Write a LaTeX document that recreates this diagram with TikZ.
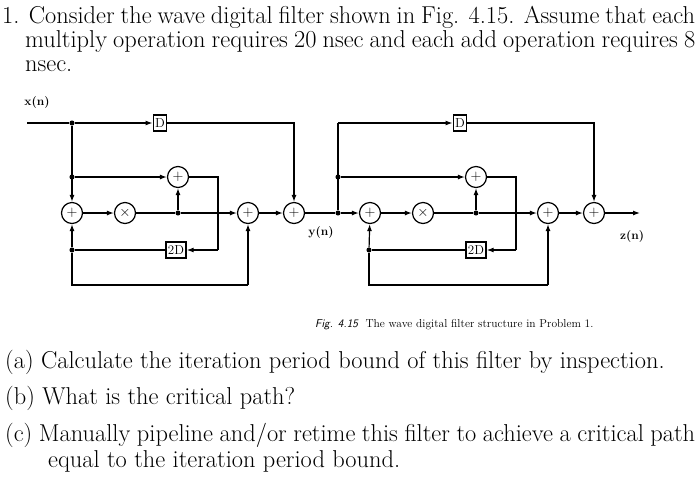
\documentclass[tikz,border=0pt]{standalone}
\usepackage{fontspec}
\usetikzlibrary{arrows.meta}
\begin{document}
\begin{tikzpicture}[x=1pt,y=-1pt,
 add/.style={circle,draw,line width=1.2pt,minimum size=21pt,inner sep=0pt,font=\fontsize{15}{15}\selectfont},
 dbox/.style={draw,line width=1.2pt,inner sep=2pt,minimum height=16pt,font=\fontsize{13}{13}\selectfont},
 ln/.style={line width=1.2pt},
 ar/.style={line width=1.2pt,-{Latex[length=7pt,width=5pt]}},
 dot/.style={circle,fill,inner sep=1.8pt},
 lab/.style={font=\fontsize{12}{12}\selectfont\bfseries},
 txt/.style={anchor=west,inner sep=0pt,font=\fontsize{24.4}{24.4}\selectfont}]
\useasboundingbox (0,0) rectangle (700,483);
% text
\node[txt] (t1) at (2,17) {\makebox[693pt][s]{1. Consider the wave digital filter shown in Fig. 4.15. Assume that each}};
\node[txt] (t2) at (25,42) {\makebox[670pt][s]{multiply operation requires 20 nsec and each add operation requires 8}};
\node[txt] (t3) at (25,66) {nsec.};
\node[anchor=west,inner sep=0pt,font=\fontsize{11.5}{11.5}\selectfont] (cap) at (315,325) {{\sffamily\itshape Fig. 4.15}\ \ The wave digital filter structure in Problem 1.};
\node[txt] (a) at (5,362) {(a) Calculate the iteration period bound of this filter by inspection.};
\node[txt] (b) at (5,398) {(b) What is the critical path?};
\node[txt] (c) at (5,435) {\makebox[690pt][s]{(c) Manually pipeline and/or retime this filter to achieve a critical path}};
\node[txt] (c2) at (48,461) {equal to the iteration period bound.};
% left section
\node[lab] (xl) at (37,103) {x(n)};
\coordinate (in) at (27,123);
\node[dot] (j1) at (72,123) {};
\node[dot] (j2) at (72,177) {};
\node[dot] (j3) at (72,250) {};
\node[add] (A1) at (72,213) {+};
\node[add] (M1) at (125,213) {$\times$};
\node[dot] (j4) at (178,213) {};
\node[add] (T1) at (178,177) {+};
\node[dbox] (D1) at (160,123) {D};
\node[dbox] (DD1) at (176,250) {2D};
\node[add] (A2) at (248,213) {+};
\node[add] (A3) at (294,213) {+};
\node[lab] (yl) at (321,232) {y(n)};
\coordinate (c1) at (294,123);
\coordinate (c2r) at (218,177);
\coordinate (c3) at (218,250);
\coordinate (c4) at (72,285);
\coordinate (c5) at (248,285);
\draw[ln] (in) -- (j1);
\draw[ar] (j1) -- (D1);
\draw[ar] (D1) -- (c1) -- (A3);
\draw[ar] (j1) -- (A1);
\draw[ar] (j2) -- (T1);
\draw[ar] (A1) -- (M1);
\draw[ln] (M1) -- (j4);
\draw[ar] (j4) -- (T1);
\draw[ar] (j4) -- (A2);
\draw[ln] (T1) -- (c2r) -- (c3);
\draw[ar] (c3) -- (DD1);
\draw[ln] (DD1) -- (j3);
\draw[ar] (j3) -- (A1);
\draw[ln] (j3) -- (c4) -- (c5);
\draw[ar] (c5) -- (A2);
\draw[ar] (A2) -- (A3);
% right section
\node[dot] (k1) at (338,213) {};
\node[dot] (k2) at (338,177) {};
\coordinate (k0) at (338,123);
\node[add] (B1) at (370,213) {+};
\node[add] (M2) at (423,213) {$\times$};
\node[dot] (k4) at (476,213) {};
\node[add] (T2) at (476,177) {+};
\node[dbox] (D2) at (460,123) {D};
\node[dbox] (DD2) at (476,250) {2D};
\node[dot] (k3) at (369,250) {};
\node[add] (B3) at (548,213) {+};
\node[add] (B4) at (594,213) {+};
\coordinate (out) at (640,213);
\node[lab] (zl) at (632,236) {z(n)};
\coordinate (d1) at (594,123);
\coordinate (d2) at (516,177);
\coordinate (d3) at (516,250);
\coordinate (d4) at (369,285);
\coordinate (d5) at (548,285);
\draw[ln] (A3) -- (k1);
\draw[ar] (k1) -- (B1);
\draw[ln] (k1) -- (k0);
\draw[ar] (k0) -- (D2);
\draw[ar] (D2) -- (d1) -- (B4);
\draw[ar] (k2) -- (T2);
\draw[ar] (B1) -- (M2);
\draw[ln] (M2) -- (k4);
\draw[ar] (k4) -- (T2);
\draw[ar] (k4) -- (B3);
\draw[ln] (T2) -- (d2) -- (d3);
\draw[ar] (d3) -- (DD2);
\draw[ln] (DD2) -- (k3);
\draw[ar] (k3) -- (B1);
\draw[ln] (k3) -- (d4) -- (d5);
\draw[ar] (d5) -- (B3);
\draw[ar] (B3) -- (B4);
\draw[ar] (B4) -- (out);
\end{tikzpicture}
\end{document}
